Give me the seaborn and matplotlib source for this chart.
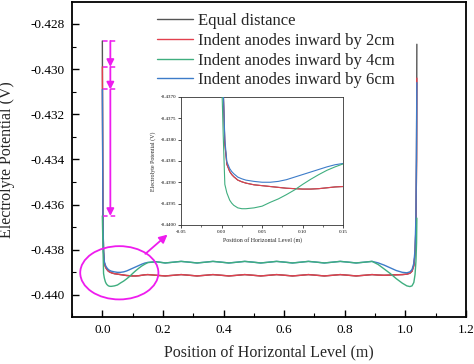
import numpy as np
import pandas as pd
import matplotlib
matplotlib.use("Agg")
import matplotlib.pyplot as plt
from matplotlib.patches import Ellipse
from matplotlib.lines import Line2D
from matplotlib.ticker import MultipleLocator, FormatStrFormatter
import seaborn as sns

# ---------------- data ----------------
x_pos = [0.0, 0.002, 0.004, 0.0065, 0.01, 0.0125, 0.015, 0.02, 0.025, 0.03,
         0.04, 0.05, 0.06, 0.07, 0.08, 0.09, 0.1, 0.11, 0.12, 0.13, 0.14, 0.15,
         0.1775, 0.2075, 0.235, 0.26, 0.2875, 0.3125, 0.34, 0.365, 0.3925,
         0.4175, 0.445, 0.47, 0.4975, 0.5225, 0.55, 0.575, 0.6025, 0.6275,
         0.655, 0.68, 0.7075, 0.7325, 0.76, 0.785, 0.8125, 0.8375, 0.865, 0.89,
         0.91, 0.93, 0.95, 0.97, 0.99, 1.005, 1.015, 1.022, 1.028, 1.032,
         1.035, 1.037, 1.038]

equal_distance = [-0.42875, -0.4368, -0.4381, -0.43858, -0.43875, -0.43882, -0.43887,
                  -0.43895, -0.43899, -0.43902, -0.43906, -0.43908, -0.43910, -0.43912,
                  -0.43914, -0.43915, -0.43916, -0.43916, -0.43915, -0.43913, -0.43911,
                  -0.43910, -0.43913, -0.43916, -0.43913, -0.43910, -0.43913, -0.43916,
                  -0.43913, -0.43910, -0.43913, -0.43916, -0.43913, -0.43910, -0.43913,
                  -0.43916, -0.43913, -0.43910, -0.43913, -0.43916, -0.43913, -0.43910,
                  -0.43913, -0.43916, -0.43913, -0.43910, -0.43913, -0.43916, -0.43913,
                  -0.43910, -0.43912, -0.43913, -0.43912, -0.43911, -0.43910, -0.43908,
                  -0.43904, -0.43895, -0.43870, -0.43820, -0.43700, -0.43400, -0.42890]

indent_2cm = [-0.42990, -0.4368, -0.4381, -0.43858, -0.43875, -0.43882, -0.43887,
              -0.43895, -0.43899, -0.43902, -0.43906, -0.43908, -0.43910, -0.43912,
              -0.43914, -0.43915, -0.43916, -0.43916, -0.43915, -0.43913, -0.43911,
              -0.43910, -0.43913, -0.43916, -0.43913, -0.43910, -0.43913, -0.43916,
              -0.43913, -0.43910, -0.43913, -0.43916, -0.43913, -0.43910, -0.43913,
              -0.43916, -0.43913, -0.43910, -0.43913, -0.43916, -0.43913, -0.43910,
              -0.43913, -0.43916, -0.43913, -0.43910, -0.43913, -0.43916, -0.43913,
              -0.43910, -0.43912, -0.43913, -0.43912, -0.43911, -0.43910, -0.43908,
              -0.43904, -0.43895, -0.43870, -0.43820, -0.43700, -0.43400, -0.43040]

indent_4cm = [-0.43650, -0.43790, -0.43905, -0.43925, -0.43942, -0.43949, -0.43954,
              -0.43960, -0.43962, -0.43962, -0.43960, -0.43956, -0.43947, -0.43939,
              -0.43929, -0.43918, -0.43905, -0.43893, -0.43882, -0.43872, -0.43864,
              -0.43857, -0.43853, -0.438585, -0.43855, -0.438515, -0.43855, -0.438585,
              -0.43855, -0.438515, -0.43855, -0.438585, -0.43855, -0.438515, -0.43855,
              -0.438585, -0.43855, -0.438515, -0.43855, -0.438585, -0.43855, -0.438515,
              -0.43855, -0.438585, -0.43855, -0.438515, -0.43855, -0.438585, -0.43855,
              -0.438515, -0.43865, -0.43885, -0.43905, -0.43928, -0.43948, -0.43960,
              -0.43963, -0.43960, -0.43945, -0.43910, -0.43850, -0.43770, -0.43660]

indent_6cm = [-0.43090, -0.43680, -0.43800, -0.43852, -0.43868, -0.43875, -0.43880,
              -0.43888, -0.43892, -0.43895, -0.43898, -0.43900, -0.43900, -0.43898,
              -0.43894, -0.43888, -0.43882, -0.43876, -0.43870, -0.43864, -0.43859,
              -0.43856, -0.43853, -0.438585, -0.43855, -0.438515, -0.43855, -0.438585,
              -0.43855, -0.438515, -0.43855, -0.438585, -0.43855, -0.438515, -0.43855,
              -0.438585, -0.43855, -0.438515, -0.43855, -0.438585, -0.43855, -0.438515,
              -0.43855, -0.438585, -0.43855, -0.438515, -0.43855, -0.438585, -0.43855,
              -0.438515, -0.43858, -0.43868, -0.43880, -0.43892, -0.43900, -0.43902,
              -0.43898, -0.43888, -0.43860, -0.43800, -0.43650, -0.43300, -0.43060]

series_labels = ["Equal distance", "Indent anodes inward by 2cm",
                 "Indent anodes inward by 4cm", "Indent anodes inward by 6cm"]
series_colors = ["#555555", "#e2404e", "#3fae7f", "#3d7cc9"]
series_values = [equal_distance, indent_2cm, indent_4cm, indent_6cm]
draw_order = [0, 1, 3, 2]

# annotation levels (peak values at x = 0)
peak_levels = [-0.42875, -0.42990, -0.43090, -0.43650]

# ---------------- style ----------------
sns.set_theme(style="ticks")
plt.rcParams["font.family"] = ["Liberation Serif", "DejaVu Serif"]
plt.rcParams["axes.unicode_minus"] = False

fig = plt.figure(figsize=(4.74, 3.64), dpi=100)
ax = fig.add_axes([0.152, 0.129, 0.831, 0.866])

frames = []
for lab, vals in zip(series_labels, series_values):
    frames.append(pd.DataFrame({"x": x_pos, "y": vals, "series": lab}))
df = pd.concat(frames, ignore_index=True)

for k, i in enumerate(draw_order):
    sub = df[df["series"] == series_labels[i]]
    sns.lineplot(data=sub, x="x", y="y", ax=ax, color=series_colors[i],
                 lw=1.0, sort=False, estimator=None, legend=False, zorder=3 + k)

ax.set_xlim(-0.1, 1.2)
ax.set_ylim(-0.44098, -0.42702)
ax.xaxis.set_major_locator(MultipleLocator(0.2))
ax.xaxis.set_minor_locator(MultipleLocator(0.1))
ax.yaxis.set_major_locator(MultipleLocator(0.002))
ax.yaxis.set_minor_locator(MultipleLocator(0.001))
ax.xaxis.set_major_formatter(FormatStrFormatter("%.1f"))
ax.yaxis.set_major_formatter(FormatStrFormatter("%.3f"))
ax.tick_params(which="major", direction="in", length=5, width=1.0,
               labelsize=9.5, color="black", labelcolor="black")
ax.tick_params(which="minor", direction="in", length=3, width=0.8, color="black")
ax.tick_params(axis="y", pad=5)
ax.tick_params(axis="x", pad=5)
for s in ax.spines.values():
    s.set_color("black")
    s.set_linewidth(1.3)
ax.set_xlabel("Position of Horizontal Level (m)", fontsize=11.5, labelpad=6)
ax.set_ylabel("Electrolyte Potential (V)", fontsize=11.5, labelpad=2)
ax.yaxis.set_label_coords(-0.146, 0.5)

handles = [Line2D([], [], color=c, lw=1.0) for c in series_colors]
ax.legend(handles, series_labels, loc="upper left", bbox_to_anchor=(0.2, 0.985),
          frameon=False, fontsize=12, handlelength=2.15, handletextpad=0.3,
          labelspacing=0.22, borderaxespad=0.0)

# ---------------- magenta annotations ----------------
mag = "#ee1cee"
ax_x = 0.0264
for lv in peak_levels:
    ax.plot([0.003, 0.053], [lv, lv], ls=(0, (3, 2)), color=mag, lw=1.1, zorder=8)
for a, b in zip(peak_levels[:-1], peak_levels[1:]):
    ax.annotate("", xy=(ax_x, b), xytext=(ax_x, a),
                arrowprops=dict(arrowstyle="-|>,head_length=0.35,head_width=0.18",
                                color=mag, lw=1.3, shrinkA=0, shrinkB=0), zorder=8)
ax.add_patch(Ellipse((0.056, -0.43902), 0.258, 0.00236, fill=False,
                     edgecolor=mag, lw=1.3, zorder=9))
ax.annotate("", xy=(0.215, -0.43733), xytext=(0.142, -0.43818),
            arrowprops=dict(arrowstyle="-|>,head_length=0.4,head_width=0.2",
                            color=mag, lw=1.3, shrinkA=0, shrinkB=0), zorder=9)

# ---------------- inset ----------------
ins = fig.add_axes([0.382, 0.382, 0.342, 0.352])
for k, i in enumerate(draw_order):
    sub = df[df["series"] == series_labels[i]]
    sns.lineplot(data=sub, x="x", y="y", ax=ins, color=series_colors[i],
                 lw=0.8, sort=False, estimator=None, legend=False, zorder=3 + k)
ins.set_xlim(-0.05, 0.15)
ins.set_ylim(-0.4400, -0.4370)
ins.xaxis.set_major_locator(MultipleLocator(0.05))
ins.xaxis.set_minor_locator(MultipleLocator(0.025))
ins.yaxis.set_major_locator(MultipleLocator(0.0005))
ins.xaxis.set_major_formatter(FormatStrFormatter("%.2f"))
ins.yaxis.set_major_formatter(FormatStrFormatter("%.4f"))
ins.tick_params(which="major", direction="out", length=2, width=0.5,
                labelsize=3.6, pad=1.5, color="black", labelcolor="black")
ins.tick_params(which="minor", direction="out", length=1.2, width=0.4, color="black")
for s in ins.spines.values():
    s.set_color("#333333")
    s.set_linewidth(0.6)
ins.set_xlabel("Position of Horizontal Level (m)", fontsize=4.3, labelpad=2)
ins.set_ylabel("Electrolyte Potential (V)", fontsize=4.3, labelpad=3)
ins.set_facecolor("white")

fig.savefig("out.png", dpi=100)
